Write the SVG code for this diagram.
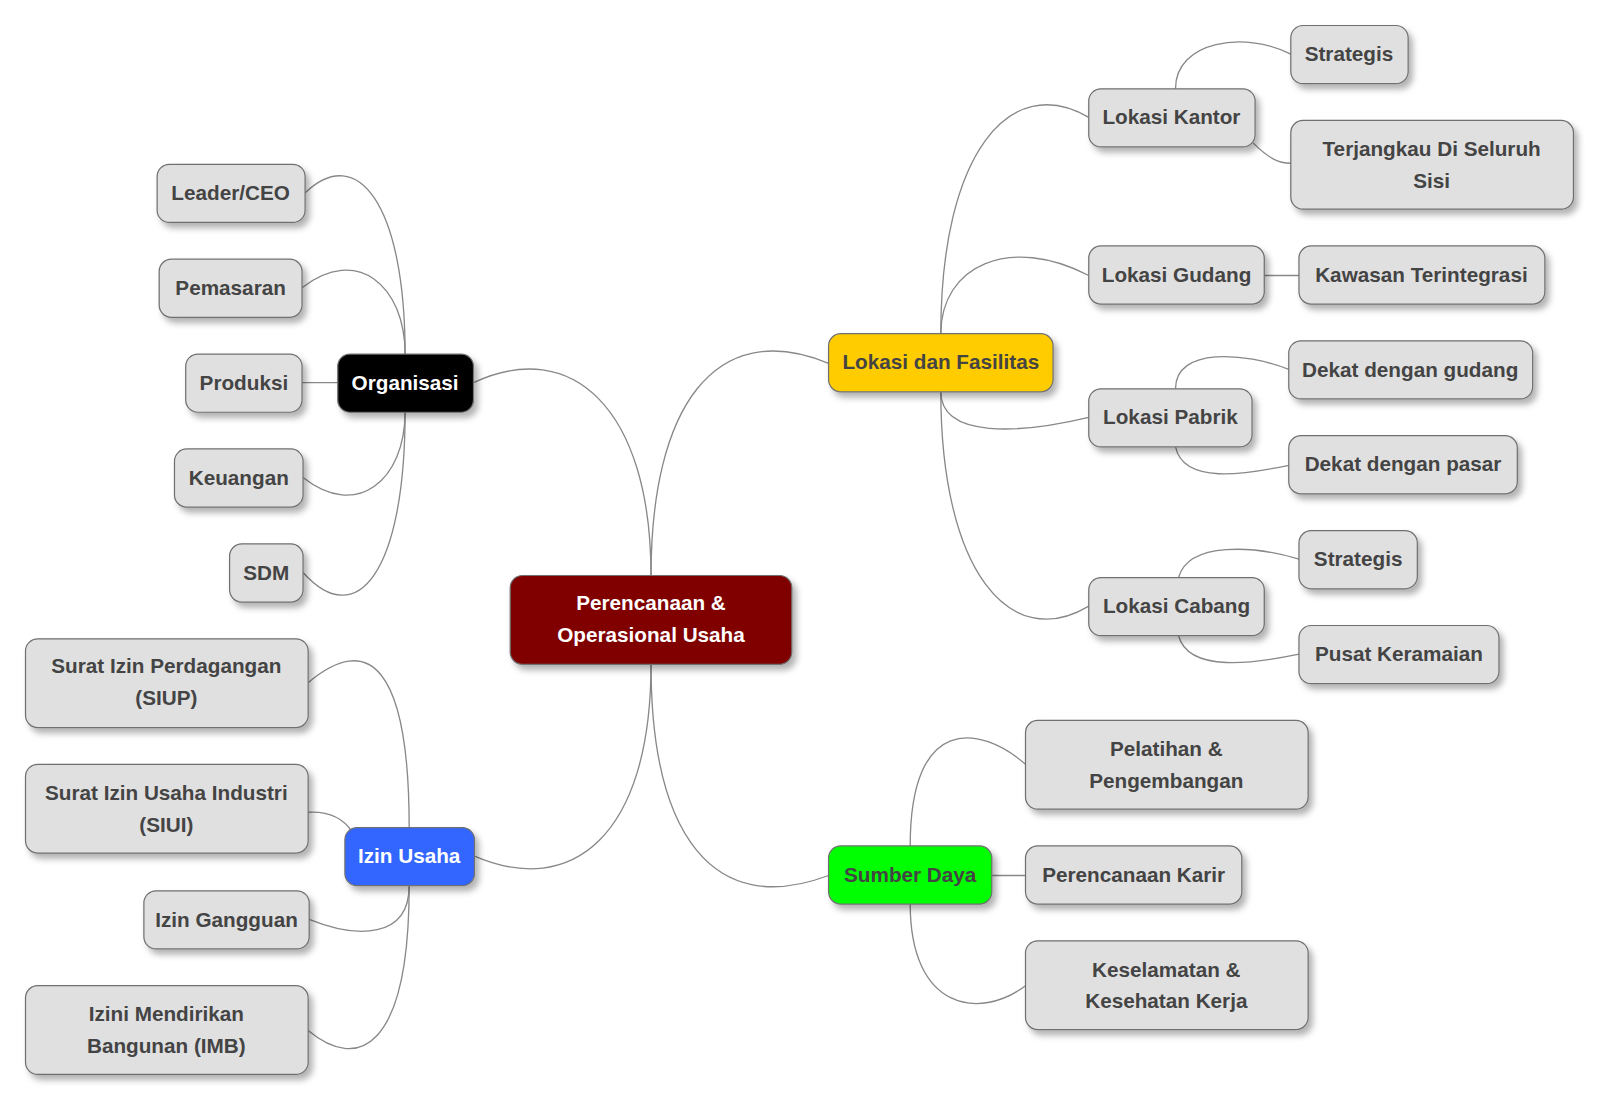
<svg xmlns="http://www.w3.org/2000/svg" width="1600" height="1102" viewBox="0 0 1600 1102">
<defs>
<filter id="sh" x="-20%" y="-20%" width="150%" height="160%"><feDropShadow dx="4" dy="5" stdDeviation="3" flood-color="#000" flood-opacity="0.3"/></filter>
<style>
.n rect{fill:#E0E0E0;stroke:#707070;stroke-width:1.2;filter:url(#sh)}
.n text{font-family:"Liberation Sans",Arial,sans-serif;font-weight:bold;font-size:20.3px;fill:#444;text-anchor:middle}
.w text{fill:#fff}
.c path{fill:none;stroke:#888;stroke-width:1.3}
</style>
</defs>
<rect width="1600" height="1102" fill="#fff"/>
<g transform="scale(1.0204)">
<g class="c">
<path d="M638,564 C638,400 560,330 464,375"/>
<path d="M638,564 C638,400 700,310 812,356"/>
<path d="M638,651 C638,820 700,900 812,858"/>
<path d="M638,651 C638,820 560,880 465,839"/>
<path d="M397,347 C397,200 350,140 299,189"/>
<path d="M397,347 C397,280 350,240 296,282"/>
<path d="M296,375 L331,375"/>
<path d="M397,404 C397,470 350,510 297,468"/>
<path d="M397,404 C397,560 350,620 297,561"/>
<path d="M401,811 C401,650 360,620 302,669"/>
<path d="M345,815 C335,800 320,795 302,796"/>
<path d="M401,868 C401,920 350,920 303,901"/>
<path d="M401,868 C401,1030 350,1050 302,1010"/>
<path d="M922,327 C922,150 990,70 1067,115"/>
<path d="M922,327 C922,260 990,230 1067,270"/>
<path d="M922,384 C922,430 1000,425 1067,409"/>
<path d="M922,384 C922,560 990,640 1067,594"/>
<path d="M1152,87 C1152,40 1220,30 1265,53"/>
<path d="M1228,140 C1243,155 1253,160 1265,160"/>
<path d="M1239,270 L1273,270"/>
<path d="M1152,381 C1152,340 1220,345 1263,362"/>
<path d="M1152,438 C1160,475 1220,465 1263,456"/>
<path d="M1155,566 C1165,530 1230,535 1273,548"/>
<path d="M1155,623 C1165,660 1230,650 1273,641"/>
<path d="M892,829 C892,700 960,710 1005,749"/>
<path d="M972,858 L1005,858"/>
<path d="M892,886 C892,990 960,1000 1005,966"/>
</g>
<g id="root" class="n w"><rect x="500" y="564" width="276" height="87" rx="12" style="fill:#800000"/><text x="638" y="598">Perencanaan &amp;</text><text x="638" y="629">Operasional Usaha</text></g>
<g id="organisasi" class="n w"><rect x="331" y="347" width="133" height="57" rx="12" style="fill:#000"/><text x="397" y="382">Organisasi</text></g>
<g id="leader" class="n"><rect x="154" y="161" width="145" height="57" rx="12"/><text x="226" y="196">Leader/CEO</text></g>
<g id="pemasaran" class="n"><rect x="156" y="254" width="140" height="57" rx="12"/><text x="226" y="289">Pemasaran</text></g>
<g id="produksi" class="n"><rect x="182" y="347" width="114" height="57" rx="12"/><text x="239" y="382">Produksi</text></g>
<g id="keuangan" class="n"><rect x="171" y="440" width="126" height="57" rx="12"/><text x="234" y="475">Keuangan</text></g>
<g id="sdm" class="n"><rect x="225" y="533" width="72" height="57" rx="12"/><text x="261" y="568">SDM</text></g>
<g id="izin" class="n w"><rect x="338" y="811" width="127" height="57" rx="12" style="fill:#3366FF"/><text x="401" y="846">Izin Usaha</text></g>
<g id="siup" class="n"><rect x="25" y="626" width="277" height="87" rx="12"/><text x="163" y="660">Surat Izin Perdagangan</text><text x="163" y="691">(SIUP)</text></g>
<g id="siui" class="n"><rect x="25" y="749" width="277" height="87" rx="12"/><text x="163" y="784">Surat Izin Usaha Industri</text><text x="163" y="815">(SIUI)</text></g>
<g id="gangguan" class="n"><rect x="141" y="873" width="162" height="57" rx="12"/><text x="222" y="908">Izin Gangguan</text></g>
<g id="imb" class="n"><rect x="25" y="966" width="277" height="87" rx="12"/><text x="163" y="1001">Izini Mendirikan</text><text x="163" y="1032">Bangunan (IMB)</text></g>
<g id="lokasi" class="n"><rect x="812" y="327" width="220" height="57" rx="12" style="fill:#FFCC00"/><text x="922" y="362">Lokasi dan Fasilitas</text></g>
<g id="kantor" class="n"><rect x="1067" y="87" width="163" height="57" rx="12"/><text x="1148" y="122">Lokasi Kantor</text></g>
<g id="strategis1" class="n"><rect x="1265" y="25" width="115" height="57" rx="12"/><text x="1322" y="60">Strategis</text></g>
<g id="terjangkau" class="n"><rect x="1265" y="118" width="277" height="87" rx="12"/><text x="1403" y="153">Terjangkau Di Seluruh</text><text x="1403" y="184">Sisi</text></g>
<g id="gudang" class="n"><rect x="1067" y="241" width="172" height="57" rx="12"/><text x="1153" y="276">Lokasi Gudang</text></g>
<g id="kawasan" class="n"><rect x="1273" y="241" width="241" height="57" rx="12"/><text x="1393" y="276">Kawasan Terintegrasi</text></g>
<g id="pabrik" class="n"><rect x="1067" y="381" width="160" height="57" rx="12"/><text x="1147" y="416">Lokasi Pabrik</text></g>
<g id="dgudang" class="n"><rect x="1263" y="334" width="239" height="57" rx="12"/><text x="1382" y="369">Dekat dengan gudang</text></g>
<g id="dpasar" class="n"><rect x="1263" y="427" width="224" height="57" rx="12"/><text x="1375" y="462">Dekat dengan pasar</text></g>
<g id="cabang" class="n"><rect x="1067" y="566" width="172" height="57" rx="12"/><text x="1153" y="601">Lokasi Cabang</text></g>
<g id="strategis2" class="n"><rect x="1273" y="520" width="116" height="57" rx="12"/><text x="1331" y="555">Strategis</text></g>
<g id="pusat" class="n"><rect x="1273" y="613" width="196" height="57" rx="12"/><text x="1371" y="648">Pusat Keramaian</text></g>
<g id="sumber" class="n"><rect x="812" y="829" width="160" height="57" rx="12" style="fill:#00FF00"/><text x="892" y="864">Sumber Daya</text></g>
<g id="pelatihan" class="n"><rect x="1005" y="706" width="277" height="87" rx="12"/><text x="1143" y="741">Pelatihan &amp;</text><text x="1143" y="772">Pengembangan</text></g>
<g id="karir" class="n"><rect x="1005" y="829" width="212" height="57" rx="12"/><text x="1111" y="864">Perencanaan Karir</text></g>
<g id="k3" class="n"><rect x="1005" y="922" width="277" height="87" rx="12"/><text x="1143" y="957">Keselamatan &amp;</text><text x="1143" y="988">Kesehatan Kerja</text></g>
</g>
</svg>
